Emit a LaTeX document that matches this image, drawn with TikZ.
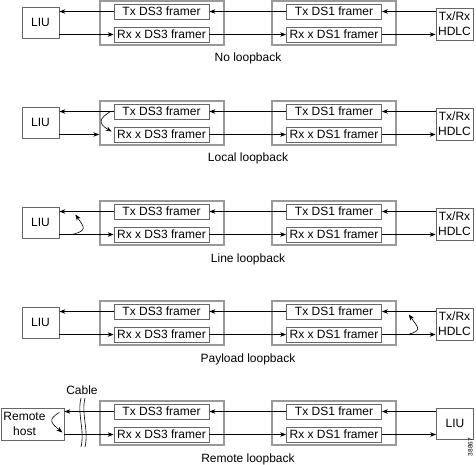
\documentclass[tikz,border=0pt]{standalone}
\usepackage{fontspec}
\setmainfont{Liberation Sans}
\usepackage{tikz}
\usetikzlibrary{arrows.meta}
\usetikzlibrary{calc}
\tikzset {
  % grey frame round a pair of framers
  unit/.style = {draw=black!40, line width=1.4pt, minimum width=124pt, minimum height=44pt},
  % framer boxes
  framer/.style = {draw=black!60, line width=0.7pt, minimum width=95pt, minimum height=15pt, inner sep=0pt},
  % LIU, HDLC and remote host
  port/.style = {draw=black!60, line width=0.7pt, minimum width=37pt, minimum height=31pt, inner sep=0pt, align=center},
  % signal paths and loops
  link/.style = {-{Stealth[length=6pt, width=4.5pt]}, line width=0.6pt},
  caption/.style = {anchor=base},
}

\begin{document}
\begin{tikzpicture}[x=1pt, y=-1pt, font=\fontsize{12}{15}\selectfont]
      \useasboundingbox (0,0) rectangle (476,465);

      \node[unit] (boxa1) at (162, 23) {};
      \node[unit] (boxb1) at (334, 23) {};
      \node[framer] (txa1) at (161.5, 11.5) {Tx DS3 framer};
      \node[framer] (rxa1) at (161.5, 34.5) {Rx x DS3 framer};
      \node[framer] (txb1) at (334, 11.5) {Tx DS1 framer};
      \node[framer] (rxb1) at (334, 34.5) {Rx x DS1 framer};
      \node[port] (liu1) at (40.5, 22.5) {LIU};
      \node[port, minimum height=32pt] (hdlc1) at (454.5, 24) {Tx/Rx\\HDLC};
      \node[caption] (cap1) at (248, 62) {No loopback};

      \draw [link] (hdlc1.west |- txb1) -- (txb1);
      \draw [link] (txb1) -- (txa1);
      \draw [link] (txa1) -- (liu1.east |- txa1);
      \draw [link] (liu1.east |- rxa1) -- (rxa1);
      \draw [link] (rxa1) -- (rxb1);
      \draw [link] (rxb1) -- (hdlc1.west |- rxb1);

      \node[unit] (boxa2) at (162, 123) {};
      \node[unit] (boxb2) at (334, 123) {};
      \node[framer] (txa2) at (161.5, 111.5) {Tx DS3 framer};
      \node[framer] (rxa2) at (161.5, 134.5) {Rx x DS3 framer};
      \node[framer] (txb2) at (334, 111.5) {Tx DS1 framer};
      \node[framer] (rxb2) at (334, 134.5) {Rx x DS1 framer};
      \node[port] (liu2) at (40.5, 122.5) {LIU};
      \node[port, minimum height=32pt] (hdlc2) at (454.5, 124) {Tx/Rx\\HDLC};
      \node[caption] (cap2) at (248, 162) {Local loopback};

      \draw [link] (hdlc2.west |- txb2) -- (txb2);
      \draw [link] (txb2) -- (txa2);
      \draw [link] (txa2) -- (liu2.east |- txa2);
      \draw [link] (liu2.east |- rxa2) -- (boxa2.west |- rxa2);
      \draw [link] (rxa2) -- (rxb2);
      \draw [link] (rxb2) -- (hdlc2.west |- rxb2);
      \draw [link] ($(txa2.west)+(-3,0)$) to[out=210, in=150, looseness=1.9] ($(rxa2.west)+(-2,-3)$);

      \node[unit] (boxa3) at (162, 223) {};
      \node[unit] (boxb3) at (334, 223) {};
      \node[framer] (txa3) at (161.5, 211.5) {Tx DS3 framer};
      \node[framer] (rxa3) at (161.5, 234.5) {Rx x DS3 framer};
      \node[framer] (txb3) at (334, 211.5) {Tx DS1 framer};
      \node[framer] (rxb3) at (334, 234.5) {Rx x DS1 framer};
      \node[port] (liu3) at (40.5, 222.5) {LIU};
      \node[port, minimum height=32pt] (hdlc3) at (454.5, 224) {Tx/Rx\\HDLC};
      \node[caption] (cap3) at (248, 262) {Line loopback};

      \draw [link] (hdlc3.west |- txb3) -- (txb3);
      \draw [link] (txb3) -- (txa3);
      \draw [link] (txa3) -- (liu3.east |- txa3);
      \draw [link] (liu3.east |- rxa3) -- (rxa3);
      \draw [link] (rxa3) -- (rxb3);
      \draw [link] (rxb3) -- (hdlc3.west |- rxb3);
      \draw [link] ($(liu3.east |- rxa3)+(13,0)$) to[out=15, in=-55, looseness=2] ($(liu3.east |- txa3)+(16,3)$);

      \node[unit] (boxa4) at (162, 323) {};
      \node[unit] (boxb4) at (334, 323) {};
      \node[framer] (txa4) at (161.5, 311.5) {Tx DS3 framer};
      \node[framer] (rxa4) at (161.5, 334.5) {Rx x DS3 framer};
      \node[framer] (txb4) at (334, 311.5) {Tx DS1 framer};
      \node[framer] (rxb4) at (334, 334.5) {Rx x DS1 framer};
      \node[port] (liu4) at (40.5, 322.5) {LIU};
      \node[port, minimum height=32pt] (hdlc4) at (454.5, 324) {Tx/Rx\\HDLC};
      \node[caption] (cap4) at (248, 362) {Payload loopback};

      \draw [link] (hdlc4.west |- txb4) -- (txb4);
      \draw [link] (txb4) -- (txa4);
      \draw [link] (txa4) -- (liu4.east |- txa4);
      \draw [link] (liu4.east |- rxa4) -- (rxa4);
      \draw [link] (rxa4) -- (rxb4);
      \draw [link] (rxb4) -- (hdlc4.west |- rxb4);
      \draw [link] ($(rxb4.east)+(26,0)$) to[out=15, in=-55, looseness=2] ($(txb4.east)+(27,3)$);

      \node[unit] (boxa5) at (162, 423) {};
      \node[unit] (boxb5) at (334, 423) {};
      \node[framer] (txa5) at (161.5, 411.5) {Tx DS3 framer};
      \node[framer] (rxa5) at (161.5, 434.5) {Rx x DS3 framer};
      \node[framer] (txb5) at (334, 411.5) {Tx DS1 framer};
      \node[framer] (rxb5) at (334, 434.5) {Rx x DS1 framer};
      \node[port, minimum width=63pt, minimum height=32pt] (host) at (32.5, 424) {\hspace*{-16pt}Remote\\\hspace*{-16pt}host};
      \node[port] (liu5) at (455, 423.5) {LIU};
      \node[caption] (cap5) at (248, 462) {Remote loopback};
      \node[caption] (cable) at (82, 394) {Cable};

      \draw [line width=0.6pt] (81, 398) .. controls (77, 414) and (85, 430) .. (81, 447);
      \draw [line width=0.6pt] (85, 398) .. controls (81, 414) and (89, 430) .. (85, 447);

      \draw [link] (liu5.west |- txb5) -- (txb5);
      \draw [link] (txb5) -- (txa5);
      \draw [link] (txa5) -- (host.east |- txa5);
      \draw [link] (host.east |- rxa5) -- (rxa5);
      \draw [link] (rxa5) -- (rxb5);
      \draw [link] (rxb5) -- (liu5.west |- rxb5);
      \draw [link] ($(host.east |- txa5)+(-5,1)$) to[out=210, in=140, looseness=1.8] ($(host.east |- rxa5)+(-2,-2)$);

      \node[rotate=90, font=\fontsize{6.5}{7}\selectfont] (fig) at (470.5, 447) {38867};
\end{tikzpicture}
\end{document}
